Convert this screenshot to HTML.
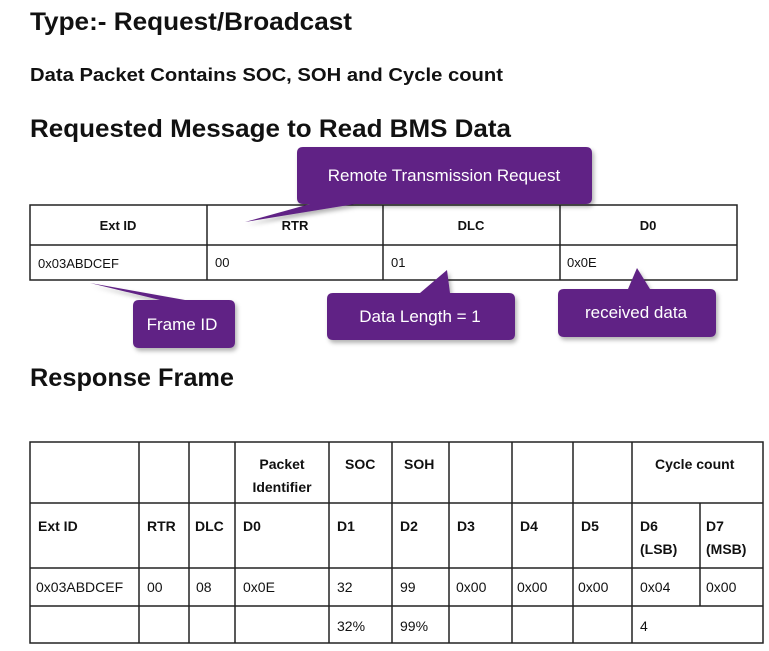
<!DOCTYPE html>
<html><head><meta charset="utf-8"><style>
html,body{margin:0;padding:0;background:#fff;}
svg{display:block;}
text{font-family:"Liberation Sans",sans-serif;fill:#111;}
.b{font-weight:bold;}
.c{fill:#fff;font-size:17px;}
</style></head><body>
<svg width="769" height="651" viewBox="0 0 769 651" xmlns="http://www.w3.org/2000/svg">
<defs><filter id="sh" x="-10%" y="-10%" width="130%" height="140%"><feDropShadow dx="2" dy="3" stdDeviation="2" flood-color="#000" flood-opacity="0.3"/></filter></defs>
<text class="b" x="30" y="30" font-size="25" textLength="322" lengthAdjust="spacingAndGlyphs">Type:- Request/Broadcast</text>
<text class="b" x="30" y="81" font-size="18" textLength="473" lengthAdjust="spacingAndGlyphs">Data Packet Contains SOC, SOH and Cycle count</text>
<text class="b" x="30" y="137" font-size="25" textLength="481" lengthAdjust="spacingAndGlyphs">Requested Message to Read BMS Data</text>
<text class="b" x="30" y="386" font-size="25" textLength="204" lengthAdjust="spacingAndGlyphs">Response Frame</text>

<g stroke="#222" stroke-width="1.5" fill="none">
<rect x="30" y="205" width="707" height="75"/>
<line x1="30" y1="245" x2="737" y2="245"/>
<line x1="207" y1="205" x2="207" y2="280"/>
<line x1="383" y1="205" x2="383" y2="280"/>
<line x1="560" y1="205" x2="560" y2="280"/>
</g>
<g font-size="13" class="b" text-anchor="middle">
<text x="118" y="230">Ext ID</text><text x="295" y="230">RTR</text><text x="471" y="230">DLC</text><text x="648" y="230">D0</text>
</g>
<g font-size="13">
<text x="38" y="268">0x03ABDCEF</text><text x="215" y="267">00</text><text x="391" y="267">01</text><text x="567" y="267">0x0E</text>
</g>

<g fill="#612385" filter="url(#sh)">
<path d="M303,147 H586 Q592,147 592,153 V198 Q592,204 586,204 H355 L245,222 L310,204 H303 Q297,204 297,198 V153 Q297,147 303,147 Z"/>
<path d="M139,300 H229 Q235,300 235,306 V342 Q235,348 229,348 H139 Q133,348 133,342 V306 Q133,300 139,300 H160 L90,283 L185,300 Z"/>
<path d="M333,293 H420 L447,270 L450,293 H509 Q515,293 515,299 V334 Q515,340 509,340 H333 Q327,340 327,334 V299 Q327,293 333,293 Z"/>
<path d="M564,289 H628 L637,268 L650,289 H710 Q716,289 716,295 V331 Q716,337 710,337 H564 Q558,337 558,331 V295 Q558,289 564,289 Z"/>
</g>
<text class="c" x="444" y="181" text-anchor="middle">Remote Transmission Request</text>
<text class="c" x="182" y="330" text-anchor="middle">Frame ID</text>
<text class="c" x="420" y="322" text-anchor="middle">Data Length  = 1</text>
<text class="c" x="636" y="318" text-anchor="middle">received data</text>

<g stroke="#222" stroke-width="1.5" fill="none">
<rect x="30" y="442" width="733" height="201"/>
<line x1="30" y1="503" x2="763" y2="503"/>
<line x1="30" y1="568" x2="763" y2="568"/>
<line x1="30" y1="606" x2="763" y2="606"/>
<line x1="139" y1="442" x2="139" y2="643"/>
<line x1="189" y1="442" x2="189" y2="643"/>
<line x1="235" y1="442" x2="235" y2="643"/>
<line x1="329" y1="442" x2="329" y2="643"/>
<line x1="392" y1="442" x2="392" y2="643"/>
<line x1="449" y1="442" x2="449" y2="643"/>
<line x1="512" y1="442" x2="512" y2="643"/>
<line x1="573" y1="442" x2="573" y2="643"/>
<line x1="632" y1="442" x2="632" y2="643"/>
<line x1="700" y1="503" x2="700" y2="606"/>
</g>
<g font-size="14" class="b">
<text x="282" y="469" text-anchor="middle">Packet</text>
<text x="282" y="492" text-anchor="middle">Identifier</text>
<text x="345" y="469">SOC</text><text x="404" y="469">SOH</text>
<text x="655" y="469">Cycle count</text>
<text x="38" y="531">Ext ID</text><text x="147" y="531">RTR</text><text x="195" y="531">DLC</text><text x="243" y="531">D0</text>
<text x="337" y="531">D1</text><text x="400" y="531">D2</text><text x="457" y="531">D3</text><text x="520" y="531">D4</text><text x="581" y="531">D5</text>
<text x="640" y="531">D6</text><text x="640" y="554">(LSB)</text><text x="706" y="531">D7</text><text x="706" y="554">(MSB)</text>
</g>
<g font-size="14">
<text x="36" y="592">0x03ABDCEF</text><text x="147" y="592">00</text><text x="196" y="592">08</text><text x="243" y="592">0x0E</text>
<text x="337" y="592">32</text><text x="400" y="592">99</text><text x="456" y="592">0x00</text><text x="517" y="592">0x00</text><text x="578" y="592">0x00</text>
<text x="640" y="592">0x04</text><text x="706" y="592">0x00</text>
<text x="337" y="631">32%</text><text x="400" y="631">99%</text><text x="640" y="631">4</text>
</g>
</svg>
</body></html>
